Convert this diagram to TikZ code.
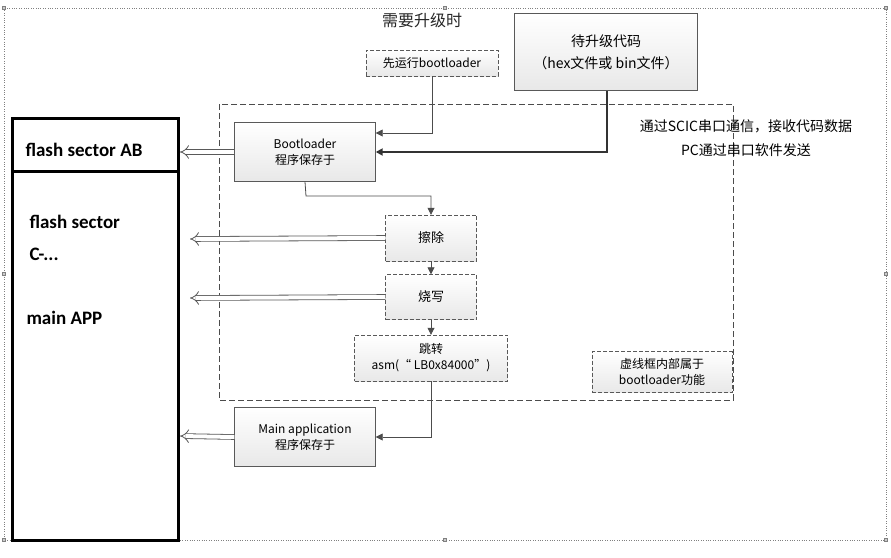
\documentclass[tikz,border=0pt]{standalone}
\usepackage{fontspec}
\setmainfont{Carlito}
\newfontfamily\cjk{Noto Sans CJK SC}
\usetikzlibrary{arrows.meta}
\begin{document}
\begin{tikzpicture}[x=1pt,y=-1pt,
 box/.style={draw=gray!70!black,top color=white,bottom color=gray!18,align=center,inner sep=0pt,font=\cjk\fontsize{12}{16}\selectfont},
 dbox/.style={box,dashed,dash pattern=on 4pt off 2pt},
 arr/.style={draw=black!70,line width=0.8pt,-{Triangle[length=7pt,width=7pt]}},
 big/.style={draw=gray!70!black,line width=0.8pt,double=white,double distance=4pt,-{Implies[length=8pt]}},
 hnd/.style={draw=gray,fill=gray!40,minimum size=3pt,inner sep=0pt}]
\useasboundingbox (0,0) rectangle (891,557);
\draw[gray,dotted] (4,8) rectangle (886,540);
\foreach \p [count=\i] in {(4,8),(445,8),(886,8),(4,274),(886,274),(4,540),(445,540),(886,540)} \node[hnd] (h\i) at \p {};
\node[font=\cjk\fontsize{16}{18}\selectfont,text=gray!30!black] (title) at (422,20) {需要升级时};
\draw[gray!60!black,dashed,dash pattern=on 6pt off 3pt] (219,104) rectangle (733,400);
\node[dbox,minimum width=132pt,minimum height=26pt] (run) at (432,63) {先运行bootloader};
\node[box,minimum width=183pt,minimum height=77pt,font=\cjk\fontsize{14}{22}\selectfont] (code) at (606,52) {待升级代码\\（hex文件或 bin文件）};
\node[box,minimum width=141pt,minimum height=59pt] (boot) at (305,152) {Bootloader\\程序保存于};
\node[dbox,minimum width=91pt,minimum height=46pt,font=\cjk\fontsize{13}{15}\selectfont] (erase) at (431,238) {擦除};
\node[dbox,minimum width=91pt,minimum height=45pt,font=\cjk\fontsize{13}{15}\selectfont] (burn) at (431,297) {烧写};
\node[dbox,minimum width=153pt,minimum height=46pt] (jump) at (431,358) {跳转\\asm(“ LB0x84000”)};
\node[box,minimum width=141pt,minimum height=59pt] (main) at (305,437) {Main application\\程序保存于};
\node[dbox,minimum width=140pt,minimum height=41pt] (note) at (662,372) {虚线框内部属于\\bootloader功能};
\node[font=\cjk\fontsize{14}{24}\selectfont,align=center] (lbl) at (746,138) {通过SCIC串口通信，接收代码数据\\PC通过串口软件发送};
\draw[line width=3pt] (12,118) rectangle (178,540);
\draw[line width=3pt] (12,171) -- (178,171);
\node[font=\bfseries\fontsize{19}{22}\selectfont,anchor=west] (fab) at (22,150) {flash sector AB};
\node[font=\bfseries\fontsize{19}{22}\selectfont,anchor=west] (fc) at (26,222) {flash sector};
\node[font=\bfseries\fontsize{19}{22}\selectfont,anchor=west] (fc2) at (26,254) {C-...};
\node[font=\bfseries\fontsize{19}{22}\selectfont,anchor=west] (fm) at (23,318) {main APP};
\coordinate (flAB) at (180,152);
\coordinate (flE) at (190,239);
\coordinate (flB) at (190,298);
\coordinate (flM) at (180,436);
\draw[arr] (run.south) |- (boot.east |- 0,133);
\draw[arr,line width=2.2pt,draw=black!80] (607,91) |- (boot.east);
\draw[arr] (boot.south) -- (306,196) -| (erase.north);
\draw[arr] (erase) -- (burn);
\draw[arr] (burn) -- (jump);
\draw[arr] (jump.south) |- (main.east);
\draw[big] (boot.west) -- (flAB);
\draw[big] (erase.west) -- (flE);
\draw[big] (burn.west) -- (flB);
\draw[big] (main.west) -- (flM);
\end{tikzpicture}
\end{document}
